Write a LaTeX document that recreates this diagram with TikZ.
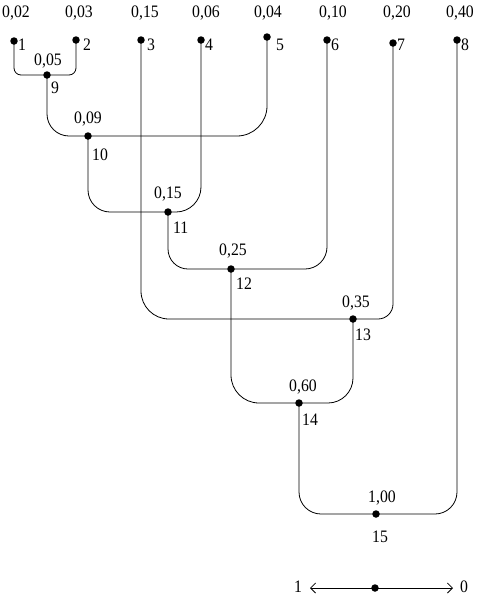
\documentclass[tikz,border=0pt]{standalone}
\usepackage{fontspec}
\setmainfont{Liberation Serif}[FakeStretch=0.9]
\usetikzlibrary{arrows.meta}
\begin{document}
\begin{tikzpicture}[x=1pt,y=-1pt,
  dot/.style={circle,fill=black,inner sep=0pt,minimum size=7.5pt},
  edge/.style={line width=0.8pt},
  txt/.style={inner sep=0pt,font=\fontsize{17.5}{17.5}\selectfont},
  num/.style={txt,anchor=west}]
\useasboundingbox (0,0) rectangle (480,603);
% leaves
\node[dot] (n1) at (14,41) {};
\node[dot] (n2) at (76,40) {};
\node[dot] (n3) at (141,40) {};
\node[dot] (n4) at (201,40) {};
\node[dot] (n5) at (267,37) {};
\node[dot] (n6) at (327,40) {};
\node[dot] (n7) at (393,43) {};
\node[dot] (n8) at (457,40) {};
\node[txt] (p1) at (16,13) {0,02};
\node[txt] (p2) at (79,13) {0,03};
\node[txt] (p3) at (145,13) {0,15};
\node[txt] (p4) at (206,13) {0,06};
\node[txt] (p5) at (268,13) {0,04};
\node[txt] (p6) at (333,13) {0,10};
\node[txt] (p7) at (397,13) {0,20};
\node[txt] (p8) at (460,13) {0,40};
\node[num] (l1) at (18,45) {1};
\node[num] (l2) at (83,45) {2};
\node[num] (l3) at (147,45) {3};
\node[num] (l4) at (205,45) {4};
\node[num] (l5) at (276,45) {5};
\node[num] (l6) at (331,45) {6};
\node[num] (l7) at (397,45) {7};
\node[num] (l8) at (461,45) {8};
% internal nodes
\node[dot] (n9) at (47,75) {};
\node[dot] (n10) at (88,136) {};
\node[dot] (n11) at (168,212) {};
\node[dot] (n12) at (231,269) {};
\node[dot] (n13) at (353,319) {};
\node[dot] (n14) at (299,403) {};
\node[dot] (n15) at (376,514) {};
\node[txt] (p9) at (48,61) {0,05};
\node[txt] (p10) at (88,119) {0,09};
\node[txt] (p11) at (168,194) {0,15};
\node[txt] (p12) at (233,251) {0,25};
\node[txt] (p13) at (356,303) {0,35};
\node[txt] (p14) at (303,387) {0,60};
\node[txt] (p15) at (382,498) {1,00};
\node[num] (l9) at (51,88) {9};
\node[num] (l10) at (92,155) {10};
\node[num] (l11) at (173,228) {11};
\node[num] (l12) at (236,284) {12};
\node[num] (l13) at (355,335) {13};
\node[num] (l14) at (302,420) {14};
\node[txt] (l15) at (380,537) {15};
% branches
\draw[edge,rounded corners=7pt] (n1.center) |- (n9.center) -| (n2.center);
\draw[edge,rounded corners=22pt] (n9.center) |- (n10.center);
\draw[edge,rounded corners=30pt] (n10.center) -| (n5.center);
\draw[edge,rounded corners=22pt] (n10.center) |- (n11.center);
\draw[edge,rounded corners=25pt] (n11.center) -| (n4.center);
\draw[edge,rounded corners=20pt] (n11.center) |- (n12.center);
\draw[edge,rounded corners=22pt] (n12.center) -| (n6.center);
\draw[edge,rounded corners=28pt] (n3.center) |- (n13.center);
\draw[edge,rounded corners=15pt] (n13.center) -| (n7.center);
\draw[edge,rounded corners=28pt] (n12.center) |- (n14.center);
\draw[edge,rounded corners=25pt] (n14.center) -| (n13.center);
\draw[edge,rounded corners=22pt] (n14.center) |- (n15.center);
\draw[edge,rounded corners=22pt] (n15.center) -| (n8.center);
% legend
\node[txt] (one) at (298,587) {1};
\node[txt] (zero) at (464,587) {0};
\node[dot] (ld) at (375,588) {};
\coordinate (la) at (310,588);
\coordinate (lb) at (453,588);
\draw[edge,{Straight Barb[length=5pt,width=10pt]}-{Straight Barb[length=5pt,width=10pt]}] (la) -- (lb);
\end{tikzpicture}
\end{document}
